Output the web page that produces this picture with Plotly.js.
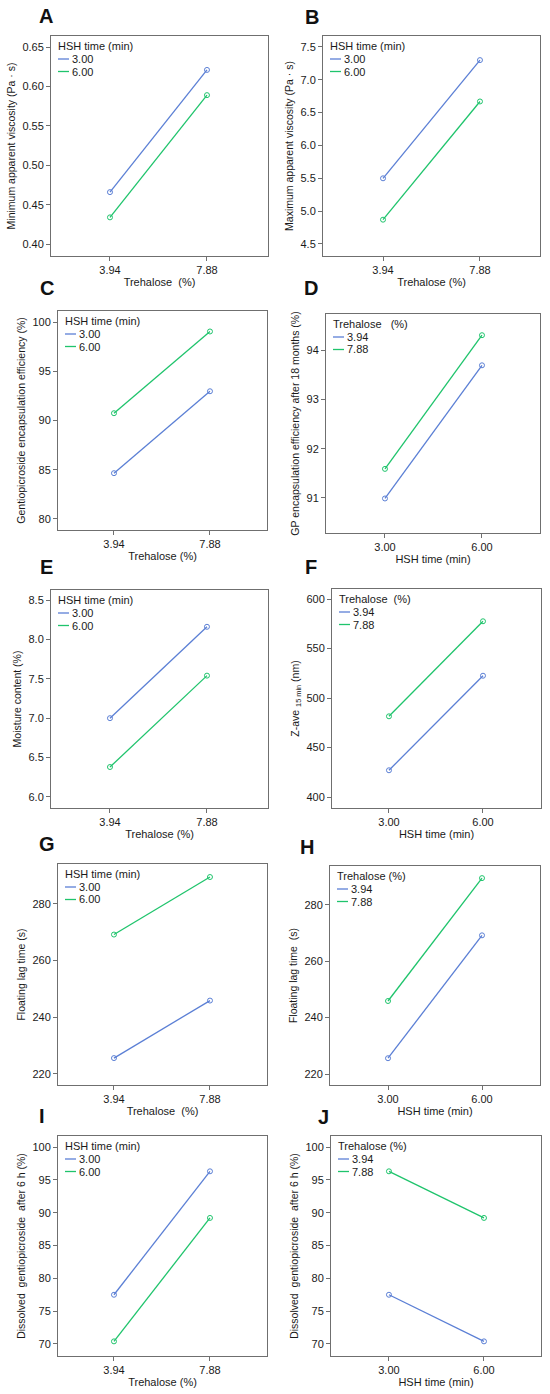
<!DOCTYPE html>
<html>
<head>
<meta charset="utf-8">
<script src="https://cdn.plot.ly/plotly-3.0.1.min.js"></script>
<style>html,body{margin:0;padding:0;background:#fff}</style>
</head>
<body>
<div id="chart" style="width:550px;height:1394px"></div>
<script>
// Interaction plots (trehalose x HSH time), ten panels A-J.
// Values.
const trehalose = ["3.94", "7.88"];
const hshTime = ["3.00", "6.00"];

const minVisc_hsh3 = [0.466, 0.621];
const minVisc_hsh6 = [0.434, 0.589];
const maxVisc_hsh3 = [5.50, 7.30];
const maxVisc_hsh6 = [4.87, 6.67];
const gpEE_hsh3 = [84.65, 92.97];
const gpEE_hsh6 = [90.74, 99.04];
const gpEE18_tre394 = [90.99, 93.69];
const gpEE18_tre788 = [91.59, 94.30];
const moisture_hsh3 = [7.00, 8.16];
const moisture_hsh6 = [6.38, 7.54];
const zave_tre394 = [427, 522.5];
const zave_tre788 = [481.5, 577.5];
const floatLag_hsh3 = [225.6, 245.9];
const floatLag_hsh6 = [269.2, 289.5];
const floatLagT_tre394 = [225.6, 269.2];
const floatLagT_tre788 = [245.9, 289.5];
const dissolved_hsh3 = [77.5, 96.3];
const dissolved_hsh6 = [70.4, 89.2];
const dissolvedT_tre394 = [77.5, 70.4];
const dissolvedT_tre788 = [96.3, 89.2];

const BLUE = "#5b7fd5";
const GREEN = "#1fc46c";
const FONT = "Arial, 'Liberation Sans', sans-serif";
const W = 550, H = 1394;

// box = [left, right, top, bottom] in page pixels
const panels = [
  { tag: "A", letter: [46, 16], box: [51, 268, 36, 256], xr: [-0.608, 1.629], yr: [0.385, 0.664], dtick: 0.05, fmt: ".2f",
    cats: trehalose, xTitle: "Trehalose  (%)", yTitle: "Minimum apparent viscosity (Pa · s)",
    legTitle: "HSH time (min)", names: hshTime, ys: [minVisc_hsh3, minVisc_hsh6] },
  { tag: "B", letter: [312, 17], box: [323, 540, 36, 256], xr: [-0.619, 1.619], yr: [4.317, 7.667], dtick: 0.5, fmt: ".1f",
    cats: trehalose, xTitle: "Trehalose (%)", yTitle: "Maximum apparent viscosity (Pa · s)",
    legTitle: "HSH time (min)", names: hshTime, ys: [maxVisc_hsh3, maxVisc_hsh6] },
  { tag: "C", letter: [47, 288], box: [58, 267, 311, 530], xr: [-0.583, 1.594], yr: [78.88, 101.12], dtick: 5, fmt: "d",
    cats: trehalose, xTitle: "Trehalose (%)", yTitle: "Gentiopicroside encapsulation efficiency (%)",
    legTitle: "HSH time (min)", names: hshTime, ys: [gpEE_hsh3, gpEE_hsh6] },
  { tag: "D", letter: [311, 288], box: [326, 540, 314, 533], xr: [-0.608, 1.598], yr: [90.29, 94.73], dtick: 1, fmt: "d",
    cats: hshTime, xTitle: "HSH time (min)", yTitle: "GP encapsulation efficiency after 18 months (%)",
    legTitle: "Trehalose   (%)", names: trehalose, ys: [gpEE18_tre394, gpEE18_tre788] },
  { tag: "E", letter: [46, 567], box: [51, 268, 590, 808], xr: [-0.608, 1.629], yr: [5.860, 8.627], dtick: 0.5, fmt: ".1f",
    cats: trehalose, xTitle: "Trehalose (%)", yTitle: "Moisture content (%)",
    legTitle: "HSH time (min)", names: hshTime, ys: [moisture_hsh3, moisture_hsh6] },
  { tag: "F", letter: [311, 567], box: [332, 541, 589, 808], xr: [-0.606, 1.617], yr: [388.9, 610.1], dtick: 50, fmt: "d",
    cats: hshTime, xTitle: "HSH time (min)", yTitle: "Z-ave <sub>15 min</sub> (nm)",
    legTitle: "Trehalose  (%)", names: trehalose, ys: [zave_tre394, zave_tre788] },
  { tag: "G", letter: [47, 844], box: [58, 267, 864, 1085], xr: [-0.583, 1.594], yr: [216.1, 294.1], dtick: 20, fmt: "d",
    cats: trehalose, xTitle: "Trehalose  (%)", yTitle: "Floating lag time (s)",
    legTitle: "HSH time (min)", names: hshTime, ys: [floatLag_hsh3, floatLag_hsh6] },
  { tag: "H", letter: [307, 847], box: [330, 540, 866, 1085], xr: [-0.617, 1.617], yr: [216.1, 293.8], dtick: 20, fmt: "d",
    cats: hshTime, xTitle: "HSH time (min)", yTitle: "Floating lag time  (s)",
    legTitle: "Trehalose (%)", names: trehalose, ys: [floatLagT_tre394, floatLagT_tre788] },
  { tag: "I", letter: [42, 1116], box: [58, 267, 1136, 1356], xr: [-0.583, 1.594], yr: [68.17, 101.68], dtick: 5, fmt: "d",
    cats: trehalose, xTitle: "Trehalose (%)", yTitle: "Dissolved  gentiopicroside  after 6 h (%)",
    legTitle: "HSH time (min)", names: hshTime, ys: [dissolved_hsh3, dissolved_hsh6] },
  { tag: "J", letter: [323, 1117], box: [331, 541, 1136, 1356], xr: [-0.61, 1.6], yr: [68.17, 101.68], dtick: 5, fmt: "d",
    cats: hshTime, xTitle: "HSH time (min)", yTitle: "Dissolved  gentiopicroside  after 6 h (%)",
    legTitle: "Trehalose (%)", names: trehalose, ys: [dissolvedT_tre394, dissolvedT_tre788] },
];

const nbsp = (s) => s.replace(/ {2,}/g, (m) => " " + "&nbsp;".repeat(m.length - 1));

const traces = [];
const annotations = [];
const shapes = [];
const layout = {
  width: W,
  height: H,
  margin: { l: 0, r: 0, t: 0, b: 0 },
  paper_bgcolor: "#fff",
  plot_bgcolor: "#fff",
  showlegend: false,
  font: { family: FONT, size: 11, color: "#1a1a1a" },
};

panels.forEach((p, i) => {
  const n = i === 0 ? "" : String(i + 1);
  const xa = "x" + n, ya = "y" + n;
  const [l, r, t, b] = p.box;
  const axisCommon = {
    showline: true, mirror: true, linecolor: "#6f6f6f", linewidth: 1,
    ticks: "outside", ticklen: 4, tickcolor: "#6f6f6f", tickwidth: 1,
    showgrid: false, zeroline: false, fixedrange: true,
    tickfont: { family: FONT, size: 11, color: "#1a1a1a" },
  };
  layout["xaxis" + n] = Object.assign({}, axisCommon, {
    domain: [l / W, r / W], anchor: ya, type: "category", range: p.xr,
    title: { text: nbsp(p.xTitle), font: { family: FONT, size: 11, color: "#1a1a1a" }, standoff: 3 },
  });
  layout["yaxis" + n] = Object.assign({}, axisCommon, {
    domain: [1 - b / H, 1 - t / H], anchor: xa, range: p.yr, dtick: p.dtick, tick0: 0, tickformat: p.fmt,
    title: { text: nbsp(p.yTitle), font: { family: FONT, size: 10.5, color: "#1a1a1a" }, standoff: 4 },
  });

  p.ys.forEach((ys, k) => {
    const c = k === 0 ? BLUE : GREEN;
    traces.push({
      type: "scatter", mode: "lines+markers", xaxis: xa, yaxis: ya,
      x: p.cats, y: ys, name: p.names[k],
      line: { color: c, width: 1.3 },
      marker: { symbol: "circle-open", size: 5, color: c, line: { width: 1, color: c } },
      hoverinfo: "skip",
    });
  });

  // panel letter
  annotations.push({
    xref: "paper", yref: "paper", x: p.letter[0] / W, y: 1 - p.letter[1] / H,
    xanchor: "center", yanchor: "middle", showarrow: false,
    text: "<b>" + p.tag + "</b>", font: { family: FONT, size: 20, color: "#111" },
  });

  // compact legend inside the top-left of each box (Plotly's own legend rows are too tall)
  const legBase = { xref: xa + " domain", yref: ya + " domain", x: 0, y: 1, xanchor: "left", yanchor: "middle", showarrow: false,
    font: { family: FONT, size: 11, color: "#1a1a1a" } };
  annotations.push(Object.assign({}, legBase, { text: nbsp(p.legTitle), xshift: 5, yshift: -10 }));
  p.names.forEach((nm, k) => {
    const c = k === 0 ? BLUE : GREEN;
    const dy = -23 - k * 12.5;
    annotations.push(Object.assign({}, legBase, { text: nm, xshift: 19, yshift: dy }));
    shapes.push({
      type: "line", xref: xa + " domain", yref: ya + " domain",
      xsizemode: "pixel", xanchor: 0, x0: 7, x1: 18,
      ysizemode: "pixel", yanchor: 1, y0: dy, y1: dy,
      line: { color: c, width: 1.3 },
    });
  });
});

layout.annotations = annotations;
layout.shapes = shapes;
Plotly.newPlot("chart", traces, layout, { staticPlot: true, displayModeBar: false });
</script>
</body>
</html>
